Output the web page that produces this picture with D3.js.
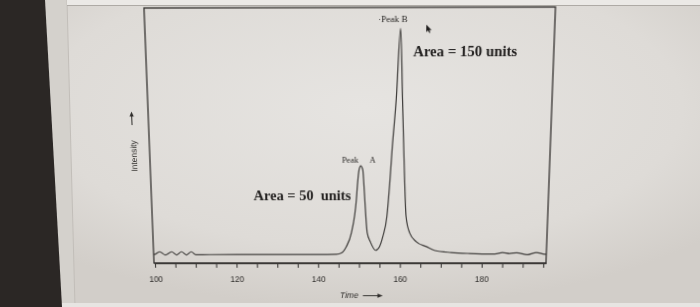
<!DOCTYPE html>
<html>
<head>
<meta charset="utf-8">
<script src="https://cdn.jsdelivr.net/npm/d3@7"></script>
<style>
  body { margin: 0; background: #dedbd7; }
  #wrap { position: relative; width: 700px; height: 307px; overflow: hidden; }
  #wrap svg { position: absolute; left: 0; top: 0; }
</style>
</head>
<body>
<div id="wrap"></div>
<script>
// chromatogram trace (time, intensity %)
const times = [99.76, 100.1, 101.3, 102.6, 104.2, 105.4, 106.6, 107.8, 109.0, 110.1,
  120, 130, 140, 144.5, 145.7, 146.9, 148.15, 149.35, 149.65, 150.0, 150.4, 150.9, 151.15,
  151.4, 152.0, 152.75, 154.05, 155.0, 155.8, 156.75, 157.4, 157.9, 158.8, 159.7, 160.3,
  160.7, 161.0, 161.4, 162.3, 163.95, 166.4, 168.5, 172.5, 177.0, 183.1, 185.0, 186.7,
  188.45, 191.1, 193.25, 195.3, 195.66];
const intensity = [3.5, 3.6, 4.6, 3.3, 4.6, 3.3, 4.6, 3.3, 4.6, 3.4,
  3.5, 3.5, 3.5, 3.6, 4.1, 6.7, 12.3, 25.6, 32.3, 37.6, 39.2, 37.6, 32.3,
  25.6, 12.3, 8.7, 5.2, 6.7, 10.8, 18.9, 32.4, 45.5, 65.0, 92.1, 65.0,
  45.5, 32.4, 18.9, 12.3, 8.7, 6.7, 5.1, 4.3, 3.9, 3.7, 4.3, 3.9,
  4.2, 3.4, 4.3, 3.6, 3.6];

const tickValues = [100, 105, 110, 115, 120, 125, 130, 135, 140, 145, 150, 155,
  160, 165, 170, 175, 180, 185, 190, 195];
const tickLabels = [100, 120, 140, 160, 180];

const peakLabels = ["Peak B", "Peak", "A"];
const areaLabels = ["Area = 150 units", "Area = 50  units"];
const axisTitles = ["Time", "Intensity"];

const W = 700, H = 307;
const wrap = d3.select("#wrap");

// ---- photo background (paper, screen edge) ----
const bg = wrap.append("svg").attr("width", W).attr("height", H);
const grad = bg.append("defs").append("radialGradient")
  .attr("id", "paper").attr("cx", "0.52").attr("cy", "0.35").attr("r", "0.65");
grad.append("stop").attr("offset", "0").attr("stop-color", "#e6e4e1");
grad.append("stop").attr("offset", "0.7").attr("stop-color", "#dedbd7");
grad.append("stop").attr("offset", "1").attr("stop-color", "#d2cec9");
bg.append("rect").attr("width", W).attr("height", H).attr("fill", "url(#paper)");
bg.append("polygon").attr("points", "45,0 67,0 75,307 62,307").attr("fill", "#d4d1cc");
bg.append("line").attr("x1", 67).attr("y1", 0).attr("x2", 75).attr("y2", 307)
  .attr("stroke", "#c2beb9").attr("stroke-width", 1);
bg.append("rect").attr("x", 67).attr("y", 0).attr("width", W).attr("height", 5)
  .attr("fill", "#ebe9e6");
bg.append("line").attr("x1", 67).attr("y1", 5.5).attr("x2", W).attr("y2", 5.5)
  .attr("stroke", "#aeaaa5").attr("stroke-width", 1);
bg.append("rect").attr("x", 62).attr("y", 303).attr("width", W).attr("height", 4)
  .attr("fill", "#e7e5e2");
bg.append("polygon").attr("points", "0,0 45,0 62,307 0,307").attr("fill", "#2b2725");

// ---- the chart, drawn flat then tilted like the photo ----
const svg = wrap.append("svg").attr("width", W).attr("height", H);

const x = d3.scaleLinear().domain([99.76, 195.66]).range([150, 550]);
const y = d3.scaleLinear().domain([0, 100]).range([263, 8]);

svg.append("rect")
  .attr("x", x.range()[0]).attr("y", y.range()[1])
  .attr("width", x.range()[1] - x.range()[0])
  .attr("height", y.range()[0] - y.range()[1])
  .attr("fill", "none").attr("stroke", "#363432").attr("stroke-width", 1.3);

const xAxis = svg.append("g")
  .attr("transform", `translate(0,${y.range()[0]})`)
  .call(d3.axisBottom(x).tickValues(tickValues).tickSize(5).tickSizeOuter(0)
    .tickFormat(d => tickLabels.includes(d) ? d : ""));
xAxis.select(".domain").attr("stroke", "#363432").attr("stroke-width", 1.3);
xAxis.selectAll(".tick line").attr("stroke", "#3a3836").attr("stroke-width", 1.1);
xAxis.selectAll(".tick text")
  .attr("y", 14)
  .attr("fill", "#2e2c2a")
  .style("font-family", "'Liberation Sans', Arial, sans-serif")
  .style("font-size", "8.5px");

const line = d3.line()
  .x((d, i) => x(times[i]))
  .y(d => y(d))
  .curve(d3.curveMonotoneX);

svg.append("path")
  .datum(intensity)
  .attr("d", line)
  .attr("fill", "none")
  .attr("stroke", "#3d3b39")
  .attr("stroke-width", 1.2);

const serif = "'Liberation Serif', 'Times New Roman', serif";

svg.append("text").attr("x", 378).attr("y", 21.8)
  .style("font-family", serif).style("font-size", "9px").attr("fill", "#2a2826")
  .text("·" + peakLabels[0]);
svg.append("text").attr("x", 342.4).attr("y", 160)
  .style("font-family", serif).style("font-size", "8.5px").attr("fill", "#2a2826")
  .text(peakLabels[1]);
svg.append("text").attr("x", 370).attr("y", 160)
  .style("font-family", serif).style("font-size", "8.5px").attr("fill", "#2a2826")
  .text(peakLabels[2]);

svg.append("text").attr("x", 412.5).attr("y", 55.5)
  .style("font-family", serif).style("font-size", "14.5px").style("font-weight", "bold")
  .attr("fill", "#232120").text(areaLabels[0]);
svg.append("text").attr("x", 351.5).attr("y", 197.7).attr("text-anchor", "end")
  .style("font-family", serif).style("font-size", "14.5px").style("font-weight", "bold")
  .style("white-space", "pre").attr("fill", "#232120").text(areaLabels[1]);

// axis titles with their arrows
const sans = "'Liberation Sans', Arial, sans-serif";
svg.append("text").attr("x", 349.5).attr("y", 300.5).attr("text-anchor", "middle")
  .style("font-family", sans).style("font-size", "8.5px").style("font-style", "italic")
  .attr("fill", "#2e2c2a").text(axisTitles[0]);
svg.append("line").attr("x1", 363.6).attr("y1", 297.5).attr("x2", 380).attr("y2", 297.5)
  .attr("stroke", "#2e2c2a").attr("stroke-width", 1);
svg.append("path").attr("d", "M384,297.5 L378.5,295.3 L378.5,299.7 Z").attr("fill", "#2e2c2a");

svg.append("text").attr("transform", "translate(137,153) rotate(-90)")
  .attr("text-anchor", "middle")
  .style("font-family", sans).style("font-size", "8.5px")
  .attr("fill", "#2e2c2a").text(axisTitles[1]);
svg.append("line").attr("x1", 133.5).attr("y1", 122).attr("x2", 133.5).attr("y2", 112)
  .attr("stroke", "#2e2c2a").attr("stroke-width", 1);
svg.append("path").attr("d", "M133.5,108.5 L131.4,113.5 L135.6,113.5 Z").attr("fill", "#2e2c2a");

// mouse pointer caught in the photo
svg.append("path")
  .attr("transform", "translate(425,24.5) scale(0.9)")
  .attr("d", "M0,0 L0,8 L2,6.2 L3.4,9 L4.6,8.4 L3.3,5.7 L5.8,5.7 Z")
  .attr("fill", "#1f1d1c");

// projective tilt: flat frame -> photographed quad
function quadMatrix(fx0, fy0, fw, fh, q) {
  const [[x0, y0], [x1, y1], [x2, y2], [x3, y3]] = q;
  const dx1 = x1 - x2, dx2 = x3 - x2, dx3 = x0 - x1 + x2 - x3;
  const dy1 = y1 - y2, dy2 = y3 - y2, dy3 = y0 - y1 + y2 - y3;
  const den = dx1 * dy2 - dx2 * dy1;
  const g = (dx3 * dy2 - dx2 * dy3) / den;
  const h = (dx1 * dy3 - dx3 * dy1) / den;
  const a = x1 - x0 + g * x1, b = x3 - x0 + h * x3, c = x0;
  const d = y1 - y0 + g * y1, e = y3 - y0 + h * y3, f = y0;
  const m11 = a / fw, m12 = b / fh, m14 = c - a * fx0 / fw - b * fy0 / fh;
  const m21 = d / fw, m22 = e / fh, m24 = f - d * fx0 / fw - e * fy0 / fh;
  const m41 = g / fw, m42 = h / fh, m44 = 1 - g * fx0 / fw - h * fy0 / fh;
  return `matrix3d(${m11},${m21},0,${m41},${m12},${m22},0,${m42},0,0,1,0,${m14},${m24},0,${m44})`;
}

svg.style("transform-origin", "0 0")
  .style("transform", quadMatrix(150, 8, 400, 255,
    [[144, 8], [555.5, 7], [546, 263], [154, 263]]));
</script>
</body>
</html>
